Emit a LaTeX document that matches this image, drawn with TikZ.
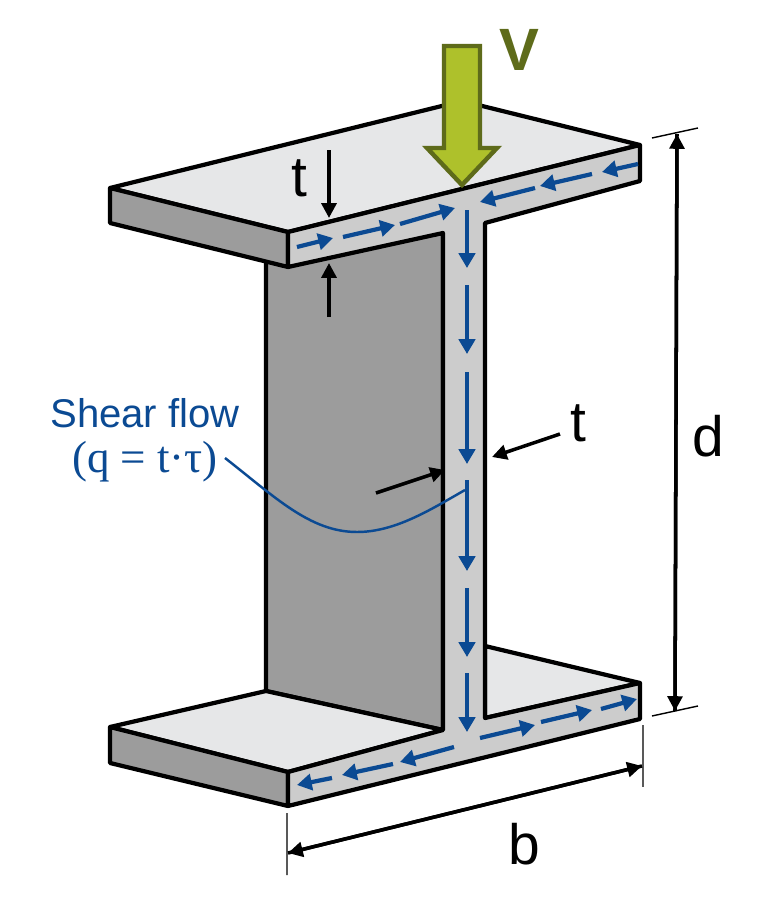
\documentclass[tikz,border=0pt]{standalone}
\usepackage{fontspec}
\setmainfont{Liberation Sans}
\newfontfamily\serifq{Liberation Serif}
\usepackage{tkz-euclide}
\usetikzlibrary{arrows.meta}
\definecolor{flowblue}{HTML}{0B4A93}
\definecolor{forcefill}{HTML}{AEC12B}
\definecolor{forceline}{HTML}{5E6B1A}
\definecolor{surfgray}{HTML}{E6E7E8}
\definecolor{sidegray}{HTML}{9C9C9C}
\definecolor{facegray}{HTML}{CCCCCC}
\tikzset{
surf/.style={draw=black,line width=1.2pt,line join=round,fill=surfgray},
side/.style={draw=black,line width=1.2pt,line join=round,fill=sidegray},
face/.style={draw=black,line width=1.2pt,line join=round,fill=facegray},
flow/.style={flowblue,line width=1.2pt,-{Triangle[length=4.2pt,width=4.6pt]}},
dim/.style={line width=1pt,-{Triangle[length=4.2pt,width=4.2pt]}},
tick/.style={line width=.4pt},
lab/.style={inner sep=0pt,font=\fontsize{16.2}{18}\selectfont}
}
\begin{document}
\begin{tikzpicture}
\useasboundingbox (0,0) rectangle (7.68,9.11);
\tkzDefPoints{1.10/7.23/TL,4.62/8.10/TB,6.40/7.66/TR,2.88/6.79/TF,1.10/6.88/TLb,2.88/6.44/TFb,6.40/7.30/TRb}
\tkzDefPoints{4.43/6.78/WA,4.85/6.88/WB,4.85/1.93/WC,4.43/1.81/WD,2.66/6.49/WE,2.66/2.20/WF}
\tkzDefPoints{1.10/1.84/BL,2.88/1.39/BF,1.10/1.48/BLb,2.88/1.05/BFb,6.40/2.28/BR,6.40/1.92/BRb,4.85/2.65/BB}
% web back and flanges
\draw[side](WE)--(WA)--(WD)--(WF)--cycle;
\draw[surf](BL)--(WF)--(WD)--(BF)--cycle;
\draw[surf](BB)--(BR)--(WC)--cycle;
\draw[side](BL)--(BF)--(BFb)--(BLb)--cycle;
\draw[surf](TL)--(TB)--(TR)--(TF)--cycle;
\draw[side](TL)--(TF)--(TFb)--(TLb)--cycle;
\draw[face](TF)--(TR)--(TRb)--(WB)--(WC)--(BR)--(BRb)--(BFb)--(BF)--(WD)--(WA)--(TFb)--cycle;
% shear flow arrows
\tkzDefPoints{2.97/6.64/s1,3.33/6.73/e1,3.43/6.74/s2,3.95/6.86/e2,4.00/6.87/s3,4.55/7.03/e3}
\tkzDefPoints{6.38/7.47/s4,6.02/7.39/e4,5.92/7.37/s5,5.40/7.25/e5,5.35/7.23/s6,4.80/7.09/e6}
\tkzDefPoints{4.67/7.01/s7,4.67/6.43/e7,4.67/6.26/s8,4.67/5.57/e8,4.67/5.39/s9,4.67/4.47/e9}
\tkzDefPoints{4.67/4.31/s10,4.67/3.40/e10,4.67/3.23/s11,4.67/2.54/e11,4.67/2.38/s12,4.67/1.79/e12}
\tkzDefPoints{4.80/1.73/s13,5.35/1.86/e13,5.41/1.89/s14,5.92/2.01/e14,6.01/2.02/s15,6.37/2.12/e15}
\tkzDefPoints{4.54/1.64/s16,4.00/1.49/e16,3.93/1.47/s17,3.42/1.36/e17,3.32/1.33/s18,2.97/1.26/e18}
\foreach \i in {1,...,18}
\draw[flow](s\i)--(e\i);
% load
\tkzDefPoints{4.44/8.65/Va,4.80/8.65/Vb,4.80/7.63/Vc,4.97/7.63/Vd,4.62/7.26/Ve,4.27/7.63/Vf,4.44/7.63/Vg}
\draw[draw=forceline,fill=forcefill,line width=1.25pt](Va)--(Vb)--(Vc)--(Vd)--(Ve)--(Vf)--(Vg)--cycle;
% dimensions
\tkzDefPoints{6.77/7.77/Da,6.75/2.00/Db,6.52/7.73/Dc,6.98/7.83/Dd,6.52/1.95/De,6.98/2.05/Df}
\tkzDefPoints{2.88/0.58/Ba,6.42/1.45/Bb,2.87/0.98/Bc,2.87/0.36/Bd,6.43/1.86/Be,6.43/1.24/Bf}
\tkzDefPoints{3.29/7.61/Ta,3.29/6.93/Tb,3.29/5.94/Tc,3.29/6.48/Td,5.60/4.77/Te,4.92/4.54/Tf,3.76/4.18/Tg,4.45/4.41/Th}
\draw[tick](Dc)--(Dd)(De)--(Df)(Bc)--(Bd)(Be)--(Bf);
\draw[dim](Da)--(Db);
\draw[dim](Db)--(Da);
\draw[dim](Ba)--(Bb);
\draw[dim](Bb)--(Ba);
\draw[dim](Ta)--(Tb);
\draw[dim](Tc)--(Td);
\draw[dim](Te)--(Tf);
\draw[dim](Tg)--(Th);
% leader
\tkzDefPoints{2.25/4.53/La,3.57/3.79/Lm,4.65/4.21/Lb}
\draw[flowblue,line width=.7pt](La)..controls (2.75,4.14) and (3.10,3.79)..(Lm)
..controls (3.95,3.79) and (4.30,4.01)..(Lb);
% labels
\node[lab,font=\fontsize{17}{19}\selectfont\bfseries,text=forceline](labV) at (5.19,8.61){V};
\node[lab](labTa) at (2.99,7.33){t};
\node[lab](labTb) at (5.78,4.88){t};
\node[lab](labD) at (7.08,4.75){d};
\node[lab](labB) at (5.24,0.67){b};
\node[inner sep=0pt,text=flowblue,font=\fontsize{11.4}{13}\selectfont](labShear) at (1.45,4.98){Shear flow};
\node[inner sep=0pt,text=flowblue,font=\fontsize{12.8}{14}\serifq\selectfont](labQ) at (1.45,4.49){(q = t·τ)};
\end{tikzpicture}
\end{document}
